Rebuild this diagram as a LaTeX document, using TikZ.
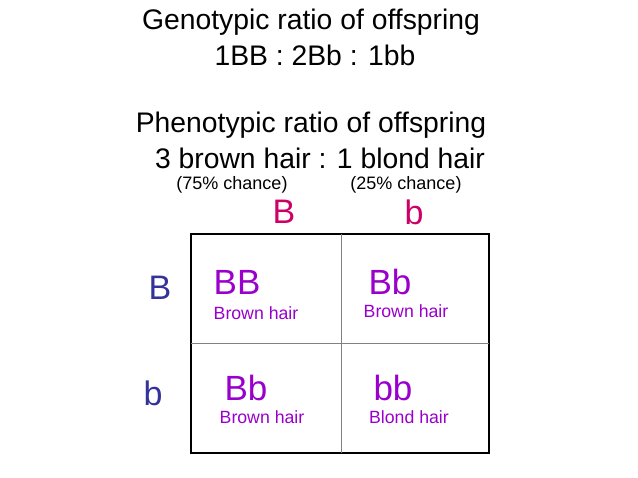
\documentclass[tikz,border=0pt]{standalone}
\usepackage{fontspec}
\setmainfont{Liberation Sans}
\definecolor{mag}{HTML}{CC0066}
\definecolor{blu}{HTML}{333399}
\definecolor{pur}{HTML}{9900CC}
\begin{document}
\begin{tikzpicture}[x=1pt,y=-1pt,
  big/.style={font=\fontsize{28.3}{32}\selectfont},
  allele/.style={font=\fontsize{34}{38}\selectfont},
  small/.style={font=\fontsize{18}{21}\selectfont},
  geno/.style={font=\fontsize{35}{39}\selectfont,text=pur},
  pheno/.style={font=\fontsize{17.7}{21}\selectfont,text=pur}]
\useasboundingbox (0,0) rectangle (638,478);
\node[big] (t1) at (311,22) {Genotypic ratio of offspring};
\node[big] (t2) at (315,55) {1BB : 2Bb : 1bb};
\node[big] (t3) at (311,125) {Phenotypic ratio of offspring};
\node[big] (t4) at (320,158) {3 brown hair : 1 blond hair};
\node[small] (c1) at (232,185) {(75\% chance)};
\node[small] (c2) at (406,185) {(25\% chance)};
\node[allele,text=mag] (tB) at (284,212) {B};
\node[allele,text=mag] (tb) at (414,212) {b};
\node[allele,text=blu] (lB) at (160,288) {B};
\node[allele,text=blu] (lb) at (153,393) {b};
\draw[line width=1.5pt] (191,234) rectangle (489,453);
\draw[line width=0.6pt,gray] (341,234) -- (341,453) (191,343) -- (489,343);
\node[geno] (g1) at (237,282) {BB};
\node[pheno] (p1) at (256,313) {Brown hair};
\node[geno] (g2) at (390,282) {Bb};
\node[pheno] (p2) at (406,311) {Brown hair};
\node[geno] (g3) at (246,388) {Bb};
\node[pheno] (p3) at (262,417) {Brown hair};
\node[geno] (g4) at (393,388) {bb};
\node[pheno] (p4) at (409,417) {Blond hair};
\end{tikzpicture}
\end{document}
